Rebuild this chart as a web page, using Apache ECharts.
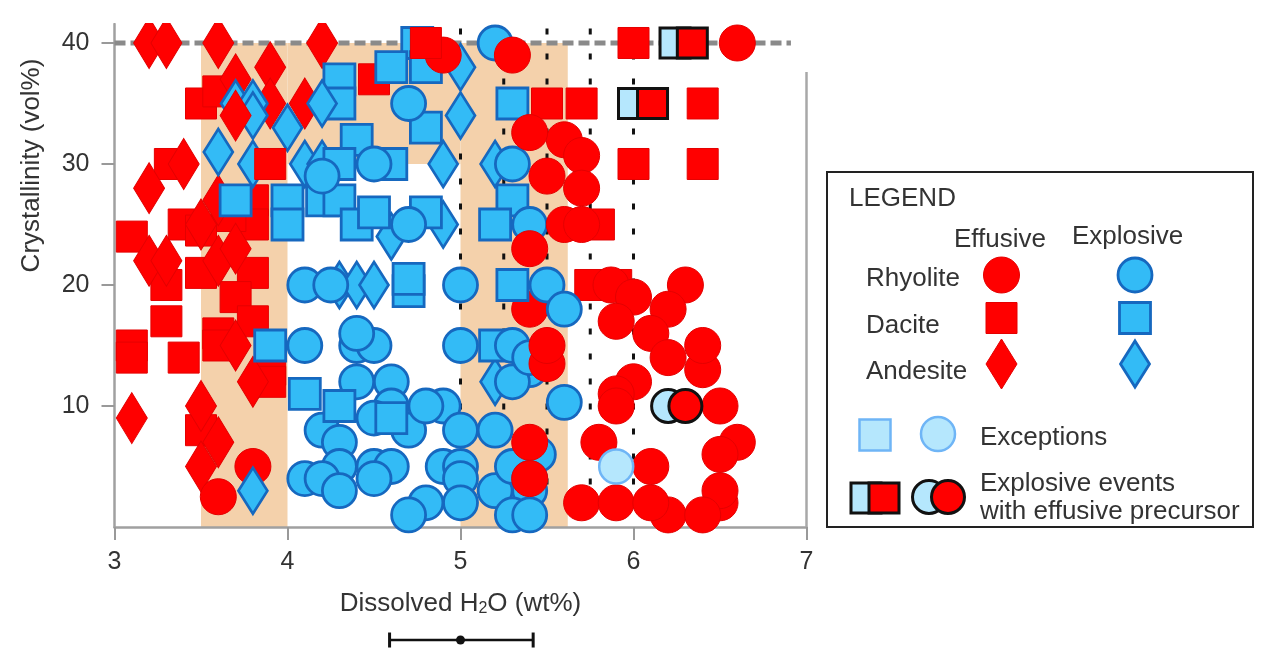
<!DOCTYPE html>
<html>
<head>
<meta charset="utf-8">
<title>Crystallinity vs dissolved H2O</title>
<script src="https://cdn.jsdelivr.net/npm/echarts@6/dist/echarts.min.js"></script>
<style>html,body{margin:0;padding:0;background:#fff}#c{width:1280px;height:664px}</style>
</head>
<body>
<div id="c"></div>
<script>
// ---- data: [H2O wt%, crystallinity vol%] ----
const xTicks = [3, 4, 5, 6, 7];
const yTicks = [10, 20, 30, 40];
const shadeBlocks = [[3.5, 0, 4.0, 40], [4.0, 30, 5.0, 40], [5.0, 0, 5.62, 40]];
const dottedX = [5, 5.25, 5.5, 5.75, 6];
const errorBar = [[4.59, -9.34], [5.42, -9.34]];
const errorDot = [[5.0, -9.34]];

const effusiveAndesite = [[3.2,40],[3.3,40],[3.6,40],[4.2,40],[3.9,38],[3.7,37],[3.9,35],[4.1,35],[3.4,30],[3.2,28],
  [3.6,27],[3.5,25],[3.2,22],[3.3,22],[3.6,22],[3.7,23],[3.7,15],[3.8,12],[3.5,10],[3.1,9],[3.6,7],[3.5,5]];
const effusiveDacite = [[3.5,35],[3.6,36],[4.5,37],[3.32,30],[3.8,27],[3.8,25],[3.67,25.7],[3.4,25],[3.5,24.5],[3.1,24],
  [3.3,20],[3.3,17],[3.5,21],[3.8,21],[3.7,19],[3.8,17],[3.6,16],[3.6,15],[3.1,15],[3.1,14],[3.4,14],[3.9,13],[3.9,12],[3.5,8],
  [5.5,35],[5.7,35],[6.0,40],[6.0,30],[6.4,30],[6.4,35],[5.8,25],[5.75,20],[5.9,20]];
const effusiveRhyolite = [[6.6,40],[5.6,32],[5.7,30.7],[5.7,28],[5.4,18],[5.87,20],[6.0,19],[6.3,20],[6.2,18],[5.9,17],
  [6.1,16],[6.2,14],[6.4,13],[6.4,15],[6.0,12],[5.9,11],[5.9,10],[6.5,10],[5.8,7],[6.6,7],[6.5,6],[6.1,5],[6.5,2],[6.5,3],
  [5.7,2],[5.9,2],[6.2,1],[6.4,1],[6.1,2],[3.8,5],[3.6,2.5]];
const explosiveAndesite = [[5.0,38],[5.0,34],[4.9,30],[4.9,25],[5.2,30],[3.7,35],[3.8,35],[3.8,34],[4.0,33],[3.6,31],
  [3.8,30],[4.1,30],[4.2,30],[4.6,24],[4.3,20],[4.4,20],[4.5,20],[5.2,12],[3.8,3]];
const explosiveDacite = [[4.75,40],[4.6,38],[4.8,38],[4.3,37],[4.3,35],[4.8,33],[4.4,32],[4.3,30],[4.6,30],[3.7,27],[4.0,27],
  [4.2,27],[4.3,27],[4.0,25],[4.4,25],[4.5,26],[4.8,26],[5.3,35],[5.3,27],[5.2,25],[4.7,19.5],[4.7,20.5],[3.9,15],
  [5.3,20],[5.2,15],[4.1,11]];
const explosiveRhyolite = [[5.2,40],[4.7,35],[4.5,30],[4.2,29],[4.7,25],[5.3,30],[5.4,25],[4.1,20],[4.25,20],[5.0,20],[5.5,20],
  [5.6,18],[4.1,15],[4.4,15],[4.5,15],[4.4,16],[5.0,15],[5.3,15],[5.4,13],[5.3,12],[5.4,14],[4.6,12],[4.4,12],[4.6,10],[4.5,9],
  [4.7,8],[4.9,10],[4.8,10],[5.0,8],[4.2,8],[4.3,7],[5.2,8],[5.6,10.3],[4.3,5],[4.5,5],[4.6,5],[4.1,4],[4.2,4],[4.5,4],[4.3,3],
  [4.9,5],[5.0,5],[5.0,4],[5.0,2],[4.8,2],[4.7,1],[5.2,3],[5.45,6],[5.3,5],[5.4,4],[5.4,3],[5.3,1],[5.4,1]];
// the same kinds of mark, drawn later because they lie on top in the picture
const topExplosiveDacite = [[4.3,10],[4.6,9]];
const topExplosiveAndesite = [[4.2,35]];
const topEffusiveAndesite = [[3.7,34]];
const topEffusiveDacite = [[3.9,30]];
const topEffusiveRhyolite = [[4.9,39],[5.3,39],[5.4,32.6],[5.5,29],[5.6,25],[5.7,25],[5.4,23],[5.5,13.5],[5.5,15],[5.4,7],[5.4,4]];
const topEffusiveDacite2 = [[4.8,40]];
const exceptionRhyolite = [[5.9,5]];
const precursorExplosiveDacite = [[6.24,40],[6.0,35]];
const precursorEffusiveDacite = [[6.34,40],[6.11,35]];
const precursorExplosiveRhyolite = [[6.2,10]];
const precursorEffusiveRhyolite = [[6.3,10]];

// ---- styling ----
const RED = '#ff0000', REDB = '#e40000', BLUE = '#33bbf6', BLUEB = '#1668bf',
      PALE = '#b5e7fd', PALEB = '#6fb5f6', SHADE = '#f4d1ab', FONT = '"Liberation Sans", Arial, sans-serif', INK = '#333333';
const SIZE = {
  rr: 36, rs: 31, rd: [31, 51],
  br: 34, bs: 31, bd: [29, 46]
};
const redStyle = {color: RED, borderColor: REDB, borderWidth: 1, borderJoin: 'miter', opacity: 1};
const blueStyle = {color: BLUE, borderColor: BLUEB, borderWidth: 2.8, borderJoin: 'miter', borderMiterLimit: 10, opacity: 1};
const paleStyle = {color: PALE, borderColor: PALEB, borderWidth: 2.5, opacity: 1};
const blackStyle = c => ({color: c, borderColor: '#111', borderWidth: 3, borderJoin: 'miter', opacity: 1});

let zc = 10;
const scatter = (name, data, symbol, size, style) => ({
  name, type: 'scatter', data, symbol, symbolSize: size, itemStyle: style, clip: false, silent: true,
  z: zc++, animation: false, emphasis: {disabled: true}
});
const vline = (x) => ({
  type: 'line', data: [[x, 41.2], [x, 3]], symbol: 'none', silent: true, z: 4, clip: false, animation: false,
  lineStyle: {color: '#111', width: 3, type: [6, 19]}
});

const series = [
  {type: 'scatter', data: [], z: 1, silent: true, animation: false,
   markArea: {silent: true, itemStyle: {color: SHADE, opacity: 1}, animation: false,
     data: shadeBlocks.map(b => [{coord: [b[0], b[1]]}, {coord: [b[2], b[3]]}])}},
  ...dottedX.map(vline),
  {type: 'line', data: [[3, 40], [6.91, 40]], symbol: 'none', silent: true, z: 5, clip: false, animation: false,
   lineStyle: {color: '#8a8a8a', width: 5, type: [11, 5]}},
  {type: 'line', data: [[7, 0], [7, 37.6]], symbol: 'none', silent: true, z: 5, clip: false, animation: false,
   lineStyle: {color: '#a8a8a8', width: 2.5}},
  scatter('Effusive dacite', effusiveDacite, 'rect', SIZE.rs, redStyle),
  scatter('Effusive andesite', effusiveAndesite, 'diamond', SIZE.rd, redStyle),
  scatter('Effusive rhyolite', effusiveRhyolite, 'circle', SIZE.rr, redStyle),
  scatter('Explosive andesite', explosiveAndesite, 'diamond', SIZE.bd, blueStyle),
  scatter('Explosive dacite', explosiveDacite, 'rect', SIZE.bs, blueStyle),
  scatter('Explosive rhyolite', explosiveRhyolite, 'circle', SIZE.br, blueStyle),
  scatter('Explosive dacite (top)', topExplosiveDacite, 'rect', SIZE.bs, blueStyle),
  scatter('Explosive andesite (top)', topExplosiveAndesite, 'diamond', SIZE.bd, blueStyle),
  scatter('Effusive andesite (top)', topEffusiveAndesite, 'diamond', SIZE.rd, redStyle),
  scatter('Effusive dacite (top)', topEffusiveDacite, 'rect', SIZE.rs, redStyle),
  scatter('Effusive rhyolite (top)', topEffusiveRhyolite, 'circle', SIZE.rr, redStyle),
  scatter('Effusive dacite (top 2)', topEffusiveDacite2, 'rect', SIZE.rs, redStyle),
  scatter('Exception rhyolite', exceptionRhyolite, 'circle', 34, paleStyle),
  scatter('Precursor explosive dacite', precursorExplosiveDacite, 'rect', 30, blackStyle(PALE)),
  scatter('Precursor effusive dacite', precursorEffusiveDacite, 'rect', 30, blackStyle(RED)),
  scatter('Precursor explosive rhyolite', precursorExplosiveRhyolite, 'circle', 33, blackStyle(PALE)),
  scatter('Precursor effusive rhyolite', precursorEffusiveRhyolite, 'circle', 33, blackStyle(RED)),
  {type: 'line', data: errorBar, symbol: 'rect', symbolSize: [3, 15], silent: true, clip: false, animation: false, z: 60,
   itemStyle: {color: '#111'}, lineStyle: {color: '#111', width: 2.5}},
  {type: 'scatter', data: errorDot, symbol: 'circle', symbolSize: 9, silent: true, clip: false, animation: false, z: 61,
   itemStyle: {color: '#111', opacity: 1}}
];

// ---- hand-built legend panel ----
const LX = 1001.5, EX = 1135;
const t = (text, x, y, size) => ({type: 'text', z: 120, silent: true, x, y: y + 2,
  style: {text, fontFamily: FONT, fontSize: size || 26, fill: INK, textVerticalAlign: 'middle', verticalAlign: 'middle'}});
const gStyle = (fill, stroke, lineWidth) => ({fill, stroke: stroke || fill, lineWidth: lineWidth || 1, lineJoin: 'miter'});
const square = (cx, cy, s, st) => ({type: 'rect', z: 120, silent: true, shape: {x: cx - s / 2, y: cy - s / 2, width: s, height: s}, style: st});
const circle = (cx, cy, r, st) => ({type: 'circle', z: 120, silent: true, shape: {cx, cy, r}, style: st});
const diamond = (cx, cy, w, h, st) => ({type: 'polygon', z: 120, silent: true,
  shape: {points: [[cx, cy - h / 2], [cx + w / 2, cy], [cx, cy + h / 2], [cx - w / 2, cy]]}, style: st});

const legendGraphics = [
  {type: 'rect', z: 100, silent: true, shape: {x: 0, y: 0, width: 820, height: 23}, style: {fill: '#fff'}},
  {type: 'rect', z: 110, silent: true, shape: {x: 827, y: 172, width: 426, height: 355},
   style: {fill: '#fff', stroke: '#222', lineWidth: 2}},
  t('LEGEND', 849, 197),
  t('Effusive', 954, 238),
  t('Explosive', 1072, 235),
  t('Rhyolite', 866, 277),
  t('Dacite', 866, 324),
  t('Andesite', 866, 370),
  circle(LX, 275, 18, gStyle(RED, REDB)),
  square(LX, 318, 31, gStyle(RED, REDB)),
  diamond(LX, 364, 31, 50, gStyle(RED, REDB)),
  circle(EX, 275, 17, gStyle(BLUE, BLUEB, 2.8)),
  square(EX, 318, 31, gStyle(BLUE, BLUEB, 2.8)),
  diamond(EX, 364, 29, 46, gStyle(BLUE, BLUEB, 2.8)),
  square(875, 435, 31, gStyle(PALE, PALEB, 2.5)),
  circle(938, 434, 17, gStyle(PALE, PALEB, 2.5)),
  t('Exceptions', 980, 436),
  square(866, 498, 30, gStyle(PALE, '#111', 3)),
  square(884, 498, 30, gStyle(RED, '#111', 3)),
  circle(929, 497, 16.5, gStyle(PALE, '#111', 3)),
  circle(948, 497, 16.5, gStyle(RED, '#111', 3)),
  t('Explosive events', 980, 482),
  t('with effusive precursor', 980, 510)
];

const chart = echarts.init(document.getElementById('c'), null, {renderer: 'canvas'});
chart.setOption({
  animation: false,
  backgroundColor: '#fff',
  grid: {left: 114.5, right: 473.5, top: 24, bottom: 137},
  xAxis: {
    type: 'value', min: xTicks[0], max: xTicks[xTicks.length - 1], interval: 1, z: 3,
    splitLine: {show: false},
    axisLine: {lineStyle: {color: '#a0a0a0', width: 2.5}},
    axisTick: {length: 13, lineStyle: {color: '#999', width: 2}},
    axisLabel: {color: INK, fontFamily: FONT, fontSize: 25, margin: 23},
    name: 'Dissolved H{sub|2}O (wt%)', nameLocation: 'middle', nameGap: 63,
    nameTextStyle: {color: INK, fontFamily: FONT, fontSize: 26,
      rich: {sub: {fontFamily: FONT, fontSize: 16, color: INK, padding: [11, 0, 0, 0]}}}
  },
  yAxis: {
    type: 'value', min: 0, max: 41.57, z: 3,
    splitLine: {show: false},
    axisLine: {lineStyle: {color: '#a0a0a0', width: 2.5}},
    axisTick: {length: 13, lineStyle: {color: '#999', width: 2}, customValues: yTicks},
    axisLabel: {color: INK, fontFamily: FONT, fontSize: 25, margin: 25, customValues: yTicks, padding: [5, 0, 0, 0]},
    name: 'Crystallinity (vol%)', nameLocation: 'middle', nameGap: 70, nameRotate: 90,
    nameTextStyle: {color: INK, fontFamily: FONT, fontSize: 26, padding: [0, 0, 0, 220]}
  },
  tooltip: {show: false},
  series,
  graphic: legendGraphics
});
</script>
</body>
</html>
